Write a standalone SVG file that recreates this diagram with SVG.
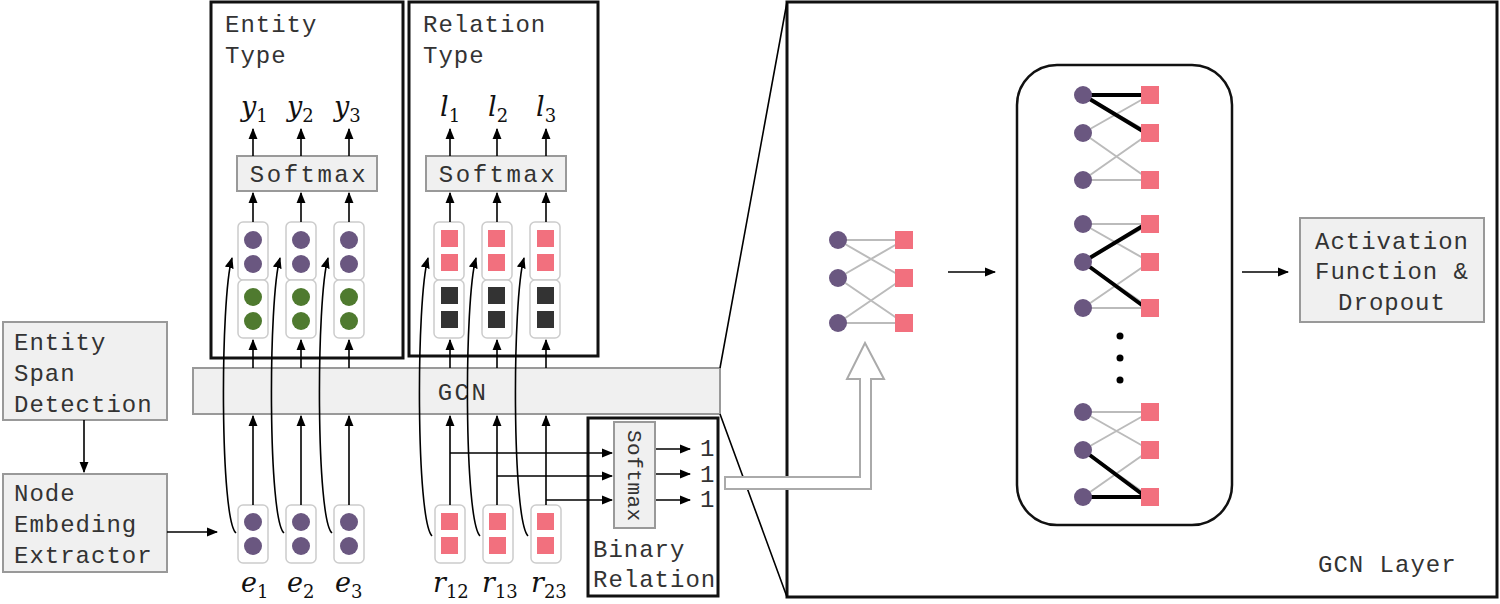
<svg xmlns="http://www.w3.org/2000/svg" width="1500" height="604" viewBox="0 0 1500 604">
<defs>
<marker id="ah" viewBox="0 0 10 10" refX="9" refY="5" markerWidth="7" markerHeight="7" orient="auto"><path d="M0,1 L10,5 L0,9 Z" fill="#000"/></marker>
<style>
.mono{font-family:"Liberation Mono",monospace;font-size:24px;letter-spacing:1px;fill:#333}
.sm{letter-spacing:2.5px}
.math{font-family:"DejaVu Serif","Liberation Serif",serif;font-style:italic;font-size:27px;fill:#111}
.sub{font-size:18px;font-style:normal}
.frame{fill:none;stroke:#111;stroke-width:3}
.gbox{fill:#f0f0f0;stroke:#999;stroke-width:2}
.vec{fill:#fff;stroke:#ccc;stroke-width:1.5}
.pc{fill:#6a5780}
.gc{fill:#4f7a2f}
.ps{fill:#f2707e}
.ds{fill:#333}
.ar{stroke:#000;stroke-width:1.6;fill:none;marker-end:url(#ah)}
.ln{stroke:#000;stroke-width:1.6;fill:none}
.ge{stroke:#bbb;stroke-width:2;fill:none}
.be{stroke:#000;stroke-width:4;fill:none}
</style>
</defs>
<rect width="1500" height="604" fill="#fff"/>

<g id="entity-type"><rect class="frame" x="211" y="2" width="192" height="356"/><text class="mono" x="225" y="32">Entity</text><text class="mono" x="225" y="63">Type</text></g>
<g id="relation-type"><rect class="frame" x="409" y="2" width="189" height="354"/><text class="mono" x="423" y="32">Relation</text><text class="mono" x="423" y="63">Type</text></g>
<g id="gcn-layer"><rect class="frame" x="787" y="2" width="710" height="595"/><text class="mono" x="1318" y="572">GCN Layer</text></g>
<g id="binary-relation"><rect class="frame" x="588" y="418" width="130" height="178"/><text class="mono" x="593" y="557">Binary</text><text class="mono" x="593" y="587">Relation</text>
<rect class="gbox" x="614" y="422" width="41" height="106"/><text class="mono" transform="translate(628,430) rotate(90)" style="font-size:21px;letter-spacing:0.5px">Softmax</text>
<text class="mono" x="700" y="456">1</text><text class="mono" x="700" y="482">1</text><text class="mono" x="700" y="507">1</text></g>

<g id="span-detection"><rect class="gbox" x="3" y="322" width="164" height="98"/><text class="mono" x="14" y="350">Entity</text><text class="mono" x="14" y="381">Span</text><text class="mono" x="14" y="412">Detection</text></g>
<g id="node-embedding"><rect class="gbox" x="3" y="474" width="164" height="98"/><text class="mono" x="14" y="501">Node</text><text class="mono" x="14" y="532">Embeding</text><text class="mono" x="14" y="563">Extractor</text></g>
<g id="gcn"><rect class="gbox" x="193" y="368" width="527" height="46"/><text class="mono sm" x="463" y="400" text-anchor="middle">GCN</text></g>
<g id="softmax-e"><rect class="gbox" x="237" y="156" width="140" height="35"/><text class="mono sm" x="309" y="182" text-anchor="middle">Softmax</text></g>
<g id="softmax-r"><rect class="gbox" x="426" y="156" width="140" height="35"/><text class="mono sm" x="498" y="182" text-anchor="middle">Softmax</text></g>
<g id="activation"><rect class="gbox" x="1300" y="218" width="184" height="104"/><text class="mono" x="1392" y="249" text-anchor="middle">Activation</text><text class="mono" x="1392" y="279" text-anchor="middle">Function &amp;</text><text class="mono" x="1392" y="310" text-anchor="middle">Dropout</text></g>

<g id="labels">
<text class="math" x="241" y="116">y<tspan class="sub" dy="6">1</tspan></text>
<text class="math" x="287" y="116">y<tspan class="sub" dy="6">2</tspan></text>
<text class="math" x="334" y="116">y<tspan class="sub" dy="6">3</tspan></text>
<text class="math" x="440" y="116">l<tspan class="sub" dy="6">1</tspan></text>
<text class="math" x="488" y="116">l<tspan class="sub" dy="6">2</tspan></text>
<text class="math" x="536" y="116">l<tspan class="sub" dy="6">3</tspan></text>
<text class="math" x="241" y="592">e<tspan class="sub" dy="6">1</tspan></text>
<text class="math" x="287" y="592">e<tspan class="sub" dy="6">2</tspan></text>
<text class="math" x="335" y="592">e<tspan class="sub" dy="6">3</tspan></text>
<text class="math" x="433" y="592">r<tspan class="sub" dy="6">12</tspan></text>
<text class="math" x="482" y="592">r<tspan class="sub" dy="6">13</tspan></text>
<text class="math" x="531" y="592">r<tspan class="sub" dy="6">23</tspan></text>
</g>

<g id="vectors">
<g id="ev1"><rect class="vec" x="238" y="222" width="30" height="58" rx="5"/><circle class="pc" cx="253" cy="240" r="9"/><circle class="pc" cx="253" cy="264" r="9"/><rect class="vec" x="238" y="280" width="30" height="58" rx="5"/><circle class="gc" cx="253" cy="297" r="9"/><circle class="gc" cx="253" cy="321" r="9"/></g>
<g id="ev2"><rect class="vec" x="286" y="222" width="30" height="58" rx="5"/><circle class="pc" cx="301" cy="240" r="9"/><circle class="pc" cx="301" cy="264" r="9"/><rect class="vec" x="286" y="280" width="30" height="58" rx="5"/><circle class="gc" cx="301" cy="297" r="9"/><circle class="gc" cx="301" cy="321" r="9"/></g>
<g id="ev3"><rect class="vec" x="334" y="222" width="30" height="58" rx="5"/><circle class="pc" cx="349" cy="240" r="9"/><circle class="pc" cx="349" cy="264" r="9"/><rect class="vec" x="334" y="280" width="30" height="58" rx="5"/><circle class="gc" cx="349" cy="297" r="9"/><circle class="gc" cx="349" cy="321" r="9"/></g>
<g id="rv1"><rect class="vec" x="434" y="222" width="30" height="58" rx="5"/><rect class="ps" x="441" y="230" width="17" height="17"/><rect class="ps" x="441" y="254" width="17" height="17"/><rect class="vec" x="434" y="280" width="30" height="58" rx="5"/><rect class="ds" x="441" y="287" width="17" height="17"/><rect class="ds" x="441" y="311" width="17" height="17"/></g>
<g id="rv2"><rect class="vec" x="482" y="222" width="30" height="58" rx="5"/><rect class="ps" x="488" y="230" width="17" height="17"/><rect class="ps" x="488" y="254" width="17" height="17"/><rect class="vec" x="482" y="280" width="30" height="58" rx="5"/><rect class="ds" x="488" y="287" width="17" height="17"/><rect class="ds" x="488" y="311" width="17" height="17"/></g>
<g id="rv3"><rect class="vec" x="530" y="222" width="30" height="58" rx="5"/><rect class="ps" x="537" y="230" width="17" height="17"/><rect class="ps" x="537" y="254" width="17" height="17"/><rect class="vec" x="530" y="280" width="30" height="58" rx="5"/><rect class="ds" x="537" y="287" width="17" height="17"/><rect class="ds" x="537" y="311" width="17" height="17"/></g>
<g id="be1"><rect class="vec" x="238" y="505" width="30" height="58" rx="5"/><circle class="pc" cx="253" cy="522" r="9"/><circle class="pc" cx="253" cy="546" r="9"/></g>
<g id="be2"><rect class="vec" x="286" y="505" width="30" height="58" rx="5"/><circle class="pc" cx="301" cy="522" r="9"/><circle class="pc" cx="301" cy="546" r="9"/></g>
<g id="be3"><rect class="vec" x="334" y="505" width="30" height="58" rx="5"/><circle class="pc" cx="349" cy="522" r="9"/><circle class="pc" cx="349" cy="546" r="9"/></g>
<g id="br1"><rect class="vec" x="435" y="505" width="30" height="58" rx="5"/><rect class="ps" x="441" y="513" width="17" height="17"/><rect class="ps" x="441" y="537" width="17" height="17"/></g>
<g id="br2"><rect class="vec" x="483" y="505" width="30" height="58" rx="5"/><rect class="ps" x="489" y="513" width="17" height="17"/><rect class="ps" x="489" y="537" width="17" height="17"/></g>
<g id="br3"><rect class="vec" x="531" y="505" width="30" height="58" rx="5"/><rect class="ps" x="537" y="513" width="17" height="17"/><rect class="ps" x="537" y="537" width="17" height="17"/></g>
</g>

<g id="bipartite-small">
<path class="ge" d="M838,240H904M838,240L904,278M838,278L904,240M838,278L904,323M838,323L904,278M838,323H904"/>
<circle class="pc" cx="838" cy="240" r="9"/><circle class="pc" cx="838" cy="278" r="9"/><circle class="pc" cx="838" cy="323" r="9"/>
<rect class="ps" x="895" y="231" width="18" height="18"/><rect class="ps" x="895" y="269" width="18" height="18"/><rect class="ps" x="895" y="314" width="18" height="18"/>
</g>

<g id="gcn-detail">
<rect x="1017" y="65" width="215" height="460" rx="40" fill="none" stroke="#111" stroke-width="2.5"/>
<path class="ge" d="M1083,95H1150M1083,95L1150,133M1083,133L1150,95M1083,133L1150,180M1083,180L1150,133M1083,180H1150"/>
<path class="be" d="M1083,95H1146M1083,95L1146,133"/>
<path class="ge" d="M1083,224H1150M1083,224L1150,262M1083,262L1150,224M1083,262L1150,308M1083,308L1150,262M1083,308H1150"/>
<path class="be" d="M1083,262L1146,224M1083,262L1146,308"/>
<path class="ge" d="M1083,412H1150M1083,412L1150,450M1083,450L1150,412M1083,450L1150,497M1083,497L1150,450M1083,497H1150"/>
<path class="be" d="M1083,450L1146,497M1083,497H1146"/>
<g>
<circle class="pc" cx="1083" cy="95" r="9"/><circle class="pc" cx="1083" cy="133" r="9"/><circle class="pc" cx="1083" cy="180" r="9"/>
<circle class="pc" cx="1083" cy="224" r="9"/><circle class="pc" cx="1083" cy="262" r="9"/><circle class="pc" cx="1083" cy="308" r="9"/>
<circle class="pc" cx="1083" cy="412" r="9"/><circle class="pc" cx="1083" cy="450" r="9"/><circle class="pc" cx="1083" cy="497" r="9"/>
<rect class="ps" x="1141" y="86" width="18" height="18"/><rect class="ps" x="1141" y="124" width="18" height="18"/><rect class="ps" x="1141" y="171" width="18" height="18"/>
<rect class="ps" x="1141" y="215" width="18" height="18"/><rect class="ps" x="1141" y="253" width="18" height="18"/><rect class="ps" x="1141" y="299" width="18" height="18"/>
<rect class="ps" x="1141" y="403" width="18" height="18"/><rect class="ps" x="1141" y="441" width="18" height="18"/><rect class="ps" x="1141" y="488" width="18" height="18"/>
</g>
<circle cx="1120" cy="336" r="3.5" fill="#000"/><circle cx="1120" cy="358" r="3.5" fill="#000"/><circle cx="1120" cy="380" r="3.5" fill="#000"/>
</g>

<g id="connectors">
<path class="ar" d="M84,420V472"/>
<path class="ar" d="M167,532H217"/>
<path class="ln" d="M720,368L787,2M720,414L787,597"/>
<path class="ar" d="M948,272H995"/>
<path class="ar" d="M1242,272H1288"/>
<path d="M725,477H860V379H847L865,343L884,379H871V489H725Z" fill="#fff" stroke="#aaa" stroke-width="2"/>
<path class="ar" d="M253,505V416"/><path class="ar" d="M253,368V340"/><path class="ar" d="M253,222V193"/><path class="ar" d="M253,156V129"/>
<path class="ar" d="M301,505V416"/><path class="ar" d="M301,368V340"/><path class="ar" d="M301,222V193"/><path class="ar" d="M301,156V129"/>
<path class="ar" d="M349,505V416"/><path class="ar" d="M349,368V340"/><path class="ar" d="M349,222V193"/><path class="ar" d="M349,156V129"/>
<path class="ar" d="M450,505V416"/><path class="ar" d="M450,368V340"/><path class="ar" d="M450,222V193"/><path class="ar" d="M450,156V129"/>
<path class="ar" d="M497,505V416"/><path class="ar" d="M497,368V340"/><path class="ar" d="M497,222V193"/><path class="ar" d="M497,156V129"/>
<path class="ar" d="M546,505V416"/><path class="ar" d="M546,368V340"/><path class="ar" d="M546,222V193"/><path class="ar" d="M546,156V129"/>
<path class="ar" d="M236,533C220,520 220,300 232,258"/>
<path class="ar" d="M284,533C268,520 268,300 280,258"/>
<path class="ar" d="M332,533C316,520 316,300 328,258"/>
<path class="ar" d="M432,536C416,520 416,300 428,258"/>
<path class="ar" d="M480,536C464,520 464,300 476,258"/>
<path class="ar" d="M528,536C512,520 512,300 524,258"/>
<path class="ar" d="M450,453H612"/>
<path class="ar" d="M497,476H612"/>
<path class="ar" d="M546,500H612"/>
<path class="ar" d="M656,449H690"/>
<path class="ar" d="M656,474H690"/>
<path class="ar" d="M656,500H690"/>
</g>
</svg>
